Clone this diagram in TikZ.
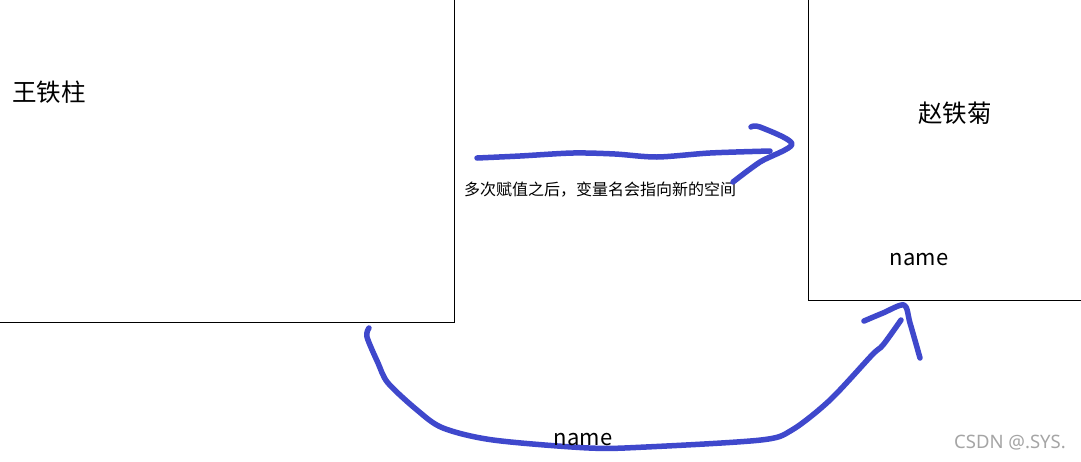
\documentclass[tikz,border=0pt]{standalone}
\usepackage{fontspec}
\setmainfont{Noto Sans CJK SC}
\newfontfamily\wmfont{Noto Sans}
\definecolor{ink}{RGB}{63,72,204}
\definecolor{wm}{RGB}{165,165,165}
\tikzset{
  boxline/.style={draw=black, line width=1pt},
  stroke/.style={draw=ink, line width=5.5pt, line cap=round, line join=round},
  big/.style={font=\fontsize{24.5}{28}\selectfont, inner sep=0pt},
  lbl/.style={font=\fontsize{22}{26}\selectfont, inner sep=0pt},
  small/.style={font=\fontsize{16}{19}\selectfont, inner sep=0pt},
}
\begin{document}
\begin{tikzpicture}[x=1pt,y=-1pt]
\useasboundingbox[fill=white] (0,0) rectangle (1081,461);
% boxes (partially visible)
\draw[boxline] (454,0) -- (454,322) -- (0,322);
\draw[boxline] (808,0) -- (808,300) -- (1081,300);
% texts
\node[big] (wang) at (49,92) {王铁柱};
\node[big] (zhao) at (955,113) {赵铁菊};
\node[lbl] (nameR) at (919,260) {name};
\node[small] (note) at (600,190) {多次赋值之后，变量名会指向新的空间};
% top arrow
\coordinate (ta) at (477,158);
\coordinate (tb) at (770,151);
\draw[stroke] plot[smooth] coordinates {(ta) (520,156) (573,153) (615,154) (657,157) (710,153) (tb)};
\draw[stroke] plot[smooth] coordinates {(751,127) (760,127) (792,144) (760,162) (733,182)};
% bottom curve
\coordinate (ba) at (369,328);
\coordinate (bb) at (901,320);
\draw[stroke] plot[smooth, tension=0.5] coordinates {(ba) (367,337) (378,363) (388,383) (417,410) (443,428) (493,440) (589,448) (646,447) (761,440) (792,430) (830,400) (872,355) (883,345) (bb)};
\draw[stroke] plot[smooth, tension=0.5] coordinates {(864,321) (883,313) (904,305) (910,323) (920,358)};
\node[lbl] (nameB) at (583,440) {name};
% watermark
\node[inner sep=0pt, text=wm, font=\wmfont\fontsize{18.5}{22}\selectfont] (mark) at (1010,443) {CSDN @.SYS.};
\end{tikzpicture}
\end{document}
